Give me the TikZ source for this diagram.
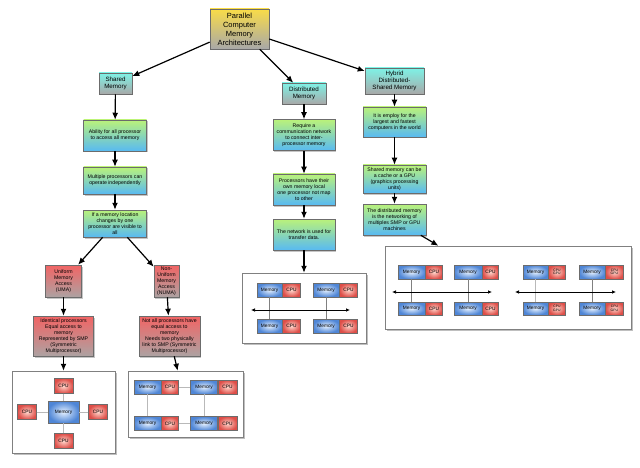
\documentclass[tikz,border=0pt]{standalone}
\usepackage{fontspec}
\setmainfont{Liberation Sans}
\usetikzlibrary{arrows.meta,positioning,shadows}

\definecolor{yellowtop}{HTML}{F9DC48}
\definecolor{greybot}{HTML}{A8A8A8}
\definecolor{cyantop}{HTML}{7EF2E6}
\definecolor{greentop}{HTML}{BAF27A}
\definecolor{bluebot}{HTML}{58BAF2}
\definecolor{redtop}{HTML}{F26464}
\definecolor{redbot}{HTML}{ADA2A2}
\definecolor{memin}{HTML}{E4F0FF}
\definecolor{memout}{HTML}{4F86D6}
\definecolor{cpuin}{HTML}{FFD6CC}
\definecolor{cpuout}{HTML}{DE4E48}

\begin{document}
\begin{tikzpicture}[x=1pt,y=-1pt,
    card/.style={draw=gray!85!black,line width=0.5pt,align=center,inner sep=1pt,
      drop shadow={shadow xshift=1pt,shadow yshift=-1.5pt,opacity=0.45}},
    topbox/.style={card,top color=yellowtop,bottom color=greybot,
      minimum width=59pt,minimum height=40pt,font=\fontsize{7.5}{9}\selectfont},
    headbox/.style={card,top color=cyantop,bottom color=greybot,
      minimum height=21pt,font=\fontsize{6.2}{7.2}\selectfont},
    notebox/.style={card,top color=greentop,bottom color=bluebot,
      minimum width=63pt,font=\fontsize{5.2}{6.2}\selectfont},
    redbox/.style={card,top color=redtop,bottom color=redbot,
      minimum height=32pt,font=\fontsize{5.2}{6}\selectfont},
    panel/.style={draw=gray,fill=white,line width=0.5pt,
      drop shadow={shadow xshift=1.5pt,shadow yshift=-2pt,opacity=0.5}},
    mem/.style={draw=gray!85!black,line width=0.4pt,inner color=memin,outer color=memout,
      minimum width=27pt,minimum height=14pt,inner sep=0pt,align=center,
      font=\fontsize{4.8}{5}\selectfont},
    cpu/.style={mem,inner color=cpuin,outer color=cpuout,minimum width=17pt},
    gpu/.style={cpu,font=\fontsize{3.4}{3.6}\selectfont},
    link/.style={draw=gray!55,line width=0.6pt},
    flow/.style={-{Latex[length=7pt,width=6pt]},line width=1.2pt},
    bus/.style={{Latex[length=4pt,width=3.5pt]}-{Latex[length=4pt,width=3.5pt]},line width=0.7pt}
  ]
  \useasboundingbox (0,0) rectangle (640,468);

  % top of the tree
  \node[topbox] (root) at (239.5,29) {Parallel\\Computer\\Memory\\Architectures};
  \node[headbox,minimum width=33pt] (shared) at (115.5,83.5) {Shared\\Memory};
  \node[headbox,minimum width=44pt] (dist) at (304,93.5) {Distributed\\Memory};
  \node[headbox,minimum width=59pt,minimum height=26pt] (hybrid) at (394.5,81) {Hybrid\\Distributed-\\Shared Memory};

  % shared memory column
  \node[notebox,minimum height=31pt] (s1) at (115,135.5) {Ability for all processor\\to access all memory};
  \node[notebox,minimum height=27pt] (s2) at (115,180.5) {Multiple processors can\\operate independently};
  \node[notebox,minimum height=27pt] (s3) at (115,223.5) {If a memory location\\changes by one\\processor are visible to\\all};
  \node[redbox,minimum width=36pt] (uma) at (63.5,281) {Uniform\\Memory\\Access\\(UMA)};
  \node[redbox,minimum width=25pt] (numa) at (166.5,281) {Non-\\Uniform\\Memory\\Access\\(NUMA)};
  \node[redbox,minimum width=60pt,minimum height=40pt] (umad) at (63.5,336) {Identical processors\\Equal access to\\memory\\Represented by SMP\\(Symmetric\\Multiprocessor)};
  \node[redbox,minimum width=61pt,minimum height=40pt] (numad) at (169.5,336) {Not all processors have\\equal access to\\memory\\Needs two physically\\link to SMP (Symmetric\\Multiprocessor)};

  % distributed memory column
  \node[notebox,minimum width=62pt,minimum height=31pt] (d1) at (304,135) {Require a\\communication network\\to connect inter-\\processor memory};
  \node[notebox,minimum width=62pt,minimum height=31pt] (d2) at (304,189.5) {Processors have their\\own memory local\\one processor not map\\to other};
  \node[notebox,minimum width=62pt,minimum height=31pt] (d3) at (304,234.5) {The network is used for\\transfer data.};

  % hybrid column
  \node[notebox,minimum height=30pt] (h1) at (394.5,122) {It is employ for the\\largest and fastest\\computers in the world};
  \node[notebox,minimum height=28pt] (h2) at (394.5,179) {Shared memory can be\\a cache or a GPU\\(graphics processing\\units)};
  \node[notebox,minimum height=31pt] (h3) at (394.5,219.5) {The distributed memory\\is the networking of\\multiples SMP or GPU\\machines};

  % UMA picture
  \node[panel,minimum width=103pt,minimum height=82pt] (umapanel) at (63.5,412) {};
  \node[mem,minimum width=31pt,minimum height=22pt] (um) at (63.5,412) {Memory};
  \node[cpu,minimum width=19pt,minimum height=15pt] (uc1) at (63.5,386) {CPU};
  \node[cpu,minimum width=19pt,minimum height=15pt] (uc2) at (27,412) {CPU};
  \node[cpu,minimum width=19pt,minimum height=15pt] (uc3) at (98,412) {CPU};
  \node[cpu,minimum width=19pt,minimum height=15pt] (uc4) at (63.5,441) {CPU};
  \draw[link] (uc1) -- (um);
  \draw[link] (uc2) -- (um);
  \draw[link] (uc3) -- (um);
  \draw[link] (uc4) -- (um);

  % NUMA picture
  \node[panel,minimum width=115pt,minimum height=66pt] (numapanel) at (185.5,404) {};
  \node[mem] (nm1) at (147.5,387) {Memory};
  \node[cpu,right=0pt of nm1] (nc1) {CPU};
  \node[mem] (nm2) at (204,387) {Memory};
  \node[cpu,right=0pt of nm2,minimum width=19pt] (nc2) {CPU};
  \node[mem] (nm3) at (147.5,423.5) {Memory};
  \node[cpu,right=0pt of nm3] (nc3) {CPU};
  \node[mem] (nm4) at (204,423.5) {Memory};
  \node[cpu,right=0pt of nm4,minimum width=19pt] (nc4) {CPU};
  \draw[link] (nc1) -- (nm2);
  \draw[link] (nc3) -- (nm4);
  \draw[link] (nm1) -- (nm3);
  \draw[link] (nm2) -- (nm4);

  % distributed picture
  \node[panel,minimum width=124pt,minimum height=70pt] (distpanel) at (304,308) {};
  \node[mem,minimum width=25pt] (dm1) at (269.5,290) {Memory};
  \node[cpu,right=0pt of dm1,minimum width=18pt] (dc1) {CPU};
  \node[mem,minimum width=26pt] (dm2) at (326,290) {Memory};
  \node[cpu,right=0pt of dm2,minimum width=18pt] (dc2) {CPU};
  \node[mem,minimum width=25pt] (dm3) at (269.5,326) {Memory};
  \node[cpu,right=0pt of dm3,minimum width=18pt] (dc3) {CPU};
  \node[mem,minimum width=26pt] (dm4) at (326,326) {Memory};
  \node[cpu,right=0pt of dm4,minimum width=18pt] (dc4) {CPU};
  \draw[link,gray] (dm1) -- (dm3);
  \draw[link,gray] (dm2) -- (dm4);
  \coordinate (dbusl) at (251,310);
  \coordinate (dbusr) at (350,310);
  \draw[bus] (dbusl) -- (dbusr);

  % hybrid picture
  \node[panel,minimum width=246pt,minimum height=83pt] (hybpanel) at (508,287.5) {};
  \node[mem] (hm1) at (411.5,272) {Memory};
  \node[cpu] (hc1) [right=0pt of hm1] {CPU};
  \node[mem,minimum width=28pt] (hm2) at (468,272) {Memory};
  \node[cpu,right=0pt of hm2,minimum width=16pt] (hc2) {CPU};
  \node[mem,minimum height=13pt] (hm3) at (411.5,308.5) {Memory};
  \node[cpu,right=0pt of hm3,minimum height=13pt] (hc3) {CPU};
  \node[mem,minimum width=28pt,minimum height=13pt] (hm4) at (468,308.5) {Memory};
  \node[cpu,right=0pt of hm4,minimum width=16pt,minimum height=13pt] (hc4) {CPU};
  \draw[link,gray] (hm1) -- (hm3);
  \draw[link,gray] (hm2) -- (hm4);
  \coordinate (hbusl) at (392,292);
  \coordinate (hbusr) at (492,292);
  \draw[bus] (hbusl) -- (hbusr);

  \node[mem,minimum width=25pt] (hm5) at (535.5,272) {Memory};
  \node[gpu,right=0pt of hm5] (hc5) {CPU\\GPU};
  \node[mem,minimum width=26pt] (hm6) at (592,272) {Memory};
  \node[gpu,right=0pt of hm6,minimum width=18pt] (hc6) {CPU\\GPU};
  \node[mem,minimum width=25pt,minimum height=13pt] (hm7) at (535.5,308.5) {Memory};
  \node[gpu,right=0pt of hm7,minimum height=13pt] (hc7) {CPU\\GPU};
  \node[mem,minimum width=26pt,minimum height=13pt] (hm8) at (592,308.5) {Memory};
  \node[gpu,right=0pt of hm8,minimum width=18pt,minimum height=13pt] (hc8) {CPU\\GPU};
  \draw[link] (hm5) -- (hm7);
  \draw[link,gray] (hm6) -- (hm8);
  \coordinate (gbusl) at (515,292);
  \coordinate (gbusr) at (616,292);
  \draw[bus] (gbusl) -- (gbusr);

  % arrows
  \draw[flow] (root) -- (shared);
  \draw[flow] (root) -- (dist);
  \draw[flow] (root) -- (hybrid);
  \draw[flow] (shared) -- (s1);
  \draw[flow] (s1) -- (s2);
  \draw[flow] (s2) -- (s3);
  \draw[flow] (s3) -- (uma);
  \draw[flow] (s3) -- (numa);
  \draw[flow] (uma) -- (umad);
  \draw[flow] (numa) -- (numad);
  \draw[flow] (umad) -- (umapanel);
  \draw[flow] (numad) -- (numapanel);
  \draw[flow] (dist) -- (d1);
  \draw[flow] (d1) -- (d2);
  \draw[flow] (d2) -- (d3);
  \draw[flow] (d3) -- (distpanel);
  \draw[flow] (hybrid) -- (h1);
  \draw[flow] (h1) -- (h2);
  \draw[flow] (h2) -- (h3);
  \draw[flow] (h3) -- (hybpanel);
\end{tikzpicture}
\end{document}
